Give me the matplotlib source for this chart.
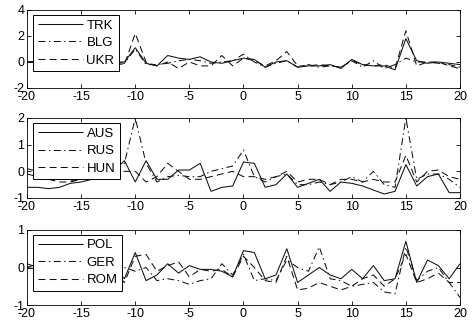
import numpy as np
import matplotlib
matplotlib.use("Agg")
import matplotlib.pyplot as plt

plt.rcParams['font.family'] = ['Liberation Sans', 'DejaVu Sans']
plt.rcParams['axes.unicode_minus'] = False
plt.rcParams['lines.scale_dashes'] = False

# event window (days)
days = list(range(-20, 21))

# panel 1
TRK = [0.0, 0.05, -0.05, 0.0, 0.1, 0.0, -0.05, 0.0, 0.0, 0.0, 1.1, -0.1, -0.3, 0.5, 0.3, 0.2, 0.4, 0.0, -0.1, 0.1,
       0.3, 0.2, -0.4, 0.0, 0.1, -0.4, -0.3, -0.3, -0.2, -0.5, 0.2, -0.2, -0.3, -0.3, -0.6, 1.8, 0.1, -0.1, 0.0, -0.1, -0.2]
BLG = [0.0, 0.0, 0.05, -0.05, 0.0, 0.05, 0.0, -0.1, 0.0, -0.1, 1.0, -0.2, -0.2, -0.1, 0.1, 0.2, 0.1, -0.1, 0.0, 0.1,
       0.6, 0.0, -0.4, -0.1, 0.1, -0.4, -0.2, -0.4, -0.3, -0.4, 0.1, -0.4, 0.1, -0.5, -0.2, 0.3, 0.0, 0.0, -0.1, -0.2, -0.4]
UKR = [0.0, -0.05, 0.0, 0.05, 0.0, -0.1, 0.0, 0.0, -0.1, -0.2, 2.2, 0.0, -0.3, 0.0, -0.5, 0.0, -0.3, -0.3, 0.5, -0.3,
       0.3, 0.1, -0.3, 0.1, 0.8, -0.3, -0.3, -0.2, -0.3, -0.4, 0.1, -0.2, -0.3, -0.2, -0.5, 2.4, -0.3, 0.0, 0.0, -0.3, -0.5]

# panel 2
AUS = [-0.6, -0.6, -0.65, -0.6, -0.45, -0.4, -0.3, -0.2, 0.0, 0.4, -0.4, 0.4, -0.3, -0.3, 0.05, 0.05, 0.3, -0.75, -0.6, -0.55,
       0.35, 0.3, -0.6, -0.5, -0.1, -0.6, -0.45, -0.3, -0.75, -0.4, -0.45, -0.55, -0.7, -0.85, -0.75, 0.25, -0.55, -0.2, -0.1, -0.8, -0.8]
RUS = [0.1, 0.0, -0.1, -0.2, -0.35, -0.3, -0.2, -0.1, 0.0, 0.3, 2.0, 0.3, -0.4, -0.2, -0.15, -0.2, -0.2, 0.0, 0.1, 0.2,
       0.8, -0.2, -0.4, -0.2, -0.1, -0.5, -0.5, -0.4, -0.5, -0.4, -0.2, -0.4, 0.0, -0.5, -0.6, 2.0, -0.3, -0.1, -0.1, -0.3, -0.6]
HUN = [-0.1, -0.2, -0.3, -0.4, -0.4, -0.3, -0.2, -0.3, -0.2, 0.0, 0.0, -0.4, -0.2, 0.3, 0.0, -0.3, -0.3, -0.2, -0.1, 0.0,
       -0.2, -0.2, -0.3, -0.2, 0.0, -0.4, -0.3, -0.3, -0.5, -0.3, -0.3, -0.4, -0.3, -0.4, -0.4, 0.6, -0.4, 0.0, 0.05, -0.2, -0.3]

# panel 3
POL = [0.0, 0.1, 0.0, -0.1, 0.0, 0.1, 0.0, -0.1, 0.0, -0.3, 0.4, -0.35, -0.2, 0.1, -0.15, 0.05, -0.05, -0.05, -0.1, -0.25,
       0.45, 0.4, -0.3, -0.2, 0.5, -0.4, -0.2, 0.0, -0.2, -0.3, -0.05, -0.3, 0.05, -0.35, -0.3, 0.7, -0.4, 0.2, 0.05, -0.3, 0.1]
GER = [0.1, 0.0, 0.05, 0.0, -0.1, 0.0, 0.1, 0.0, 0.1, 0.0, -0.1, 0.0, -0.35, -0.3, -0.35, -0.45, -0.35, -0.3, 0.1, -0.2,
       0.35, -0.35, -0.3, -0.35, 0.2, 0.0, -0.1, 0.55, -0.3, -0.35, -0.5, -0.45, -0.4, -0.65, -0.7, 0.55, -0.35, -0.1, 0.0, -0.4, -0.8]
ROM = [0.0, -0.05, 0.0, 0.1, 0.0, -0.1, 0.0, 0.0, -0.1, -0.4, 0.3, 0.35, -0.1, 0.05, 0.15, -0.25, -0.05, -0.1, -0.05, -0.25,
       0.3, 0.0, -0.35, -0.4, 0.3, -0.6, -0.55, -0.4, -0.5, -0.6, -0.5, -0.3, -0.2, -0.5, -0.3, 0.35, -0.4, -0.3, -0.15, -0.4, -0.4]

panels = [
    (["TRK", "BLG", "UKR"], [TRK, BLG, UKR], (-2, 4), [-2, 0, 2, 4]),
    (["AUS", "RUS", "HUN"], [AUS, RUS, HUN], (-1, 2), [-1, 0, 1, 2]),
    (["POL", "GER", "ROM"], [POL, GER, ROM], (-1, 1), [-1, 0, 1]),
]
# matlab-ish line styles: solid, dash-dot, dashed
styles = [(0, ()), (0, (5, 2.5, 1, 2.5)), (0, (5, 3))]

fig = plt.figure(figsize=(4.74, 3.31), dpi=100)
W, H = 474.0, 331.0
# axes boxes in pixels: (top, bottom)
boxes = [(10, 88), (118, 198), (230, 305)]
left, right = 27, 460

for (names, series, ylim, yticks), (top, bot) in zip(panels, boxes):
    ax = fig.add_axes([left / W, 1 - bot / H, (right - left) / W, (bot - top) / H])
    for name, ys, ls in zip(names, series, styles):
        ax.plot(days, ys, linestyle=ls, color='#111111', lw=0.75, label=name)
    ax.set_xlim(-20, 20)
    ax.set_ylim(*ylim)
    ax.set_xticks(range(-20, 21, 5))
    ax.set_yticks(yticks)
    ax.tick_params(direction='in', top=True, right=True, labelsize=9, length=3, width=0.6, pad=2)
    for s in ax.spines.values():
        s.set_linewidth(0.6)
    leg = ax.legend(loc='upper left', bbox_to_anchor=(0.014, 0.94), borderaxespad=0,
                    fontsize=9.5, handlelength=3.4, labelspacing=0.4, handletextpad=0.3,
                    fancybox=False, framealpha=1, edgecolor='black', borderpad=0.35)
    leg.get_frame().set_linewidth(0.7)

fig.savefig("out.png", dpi=100)
